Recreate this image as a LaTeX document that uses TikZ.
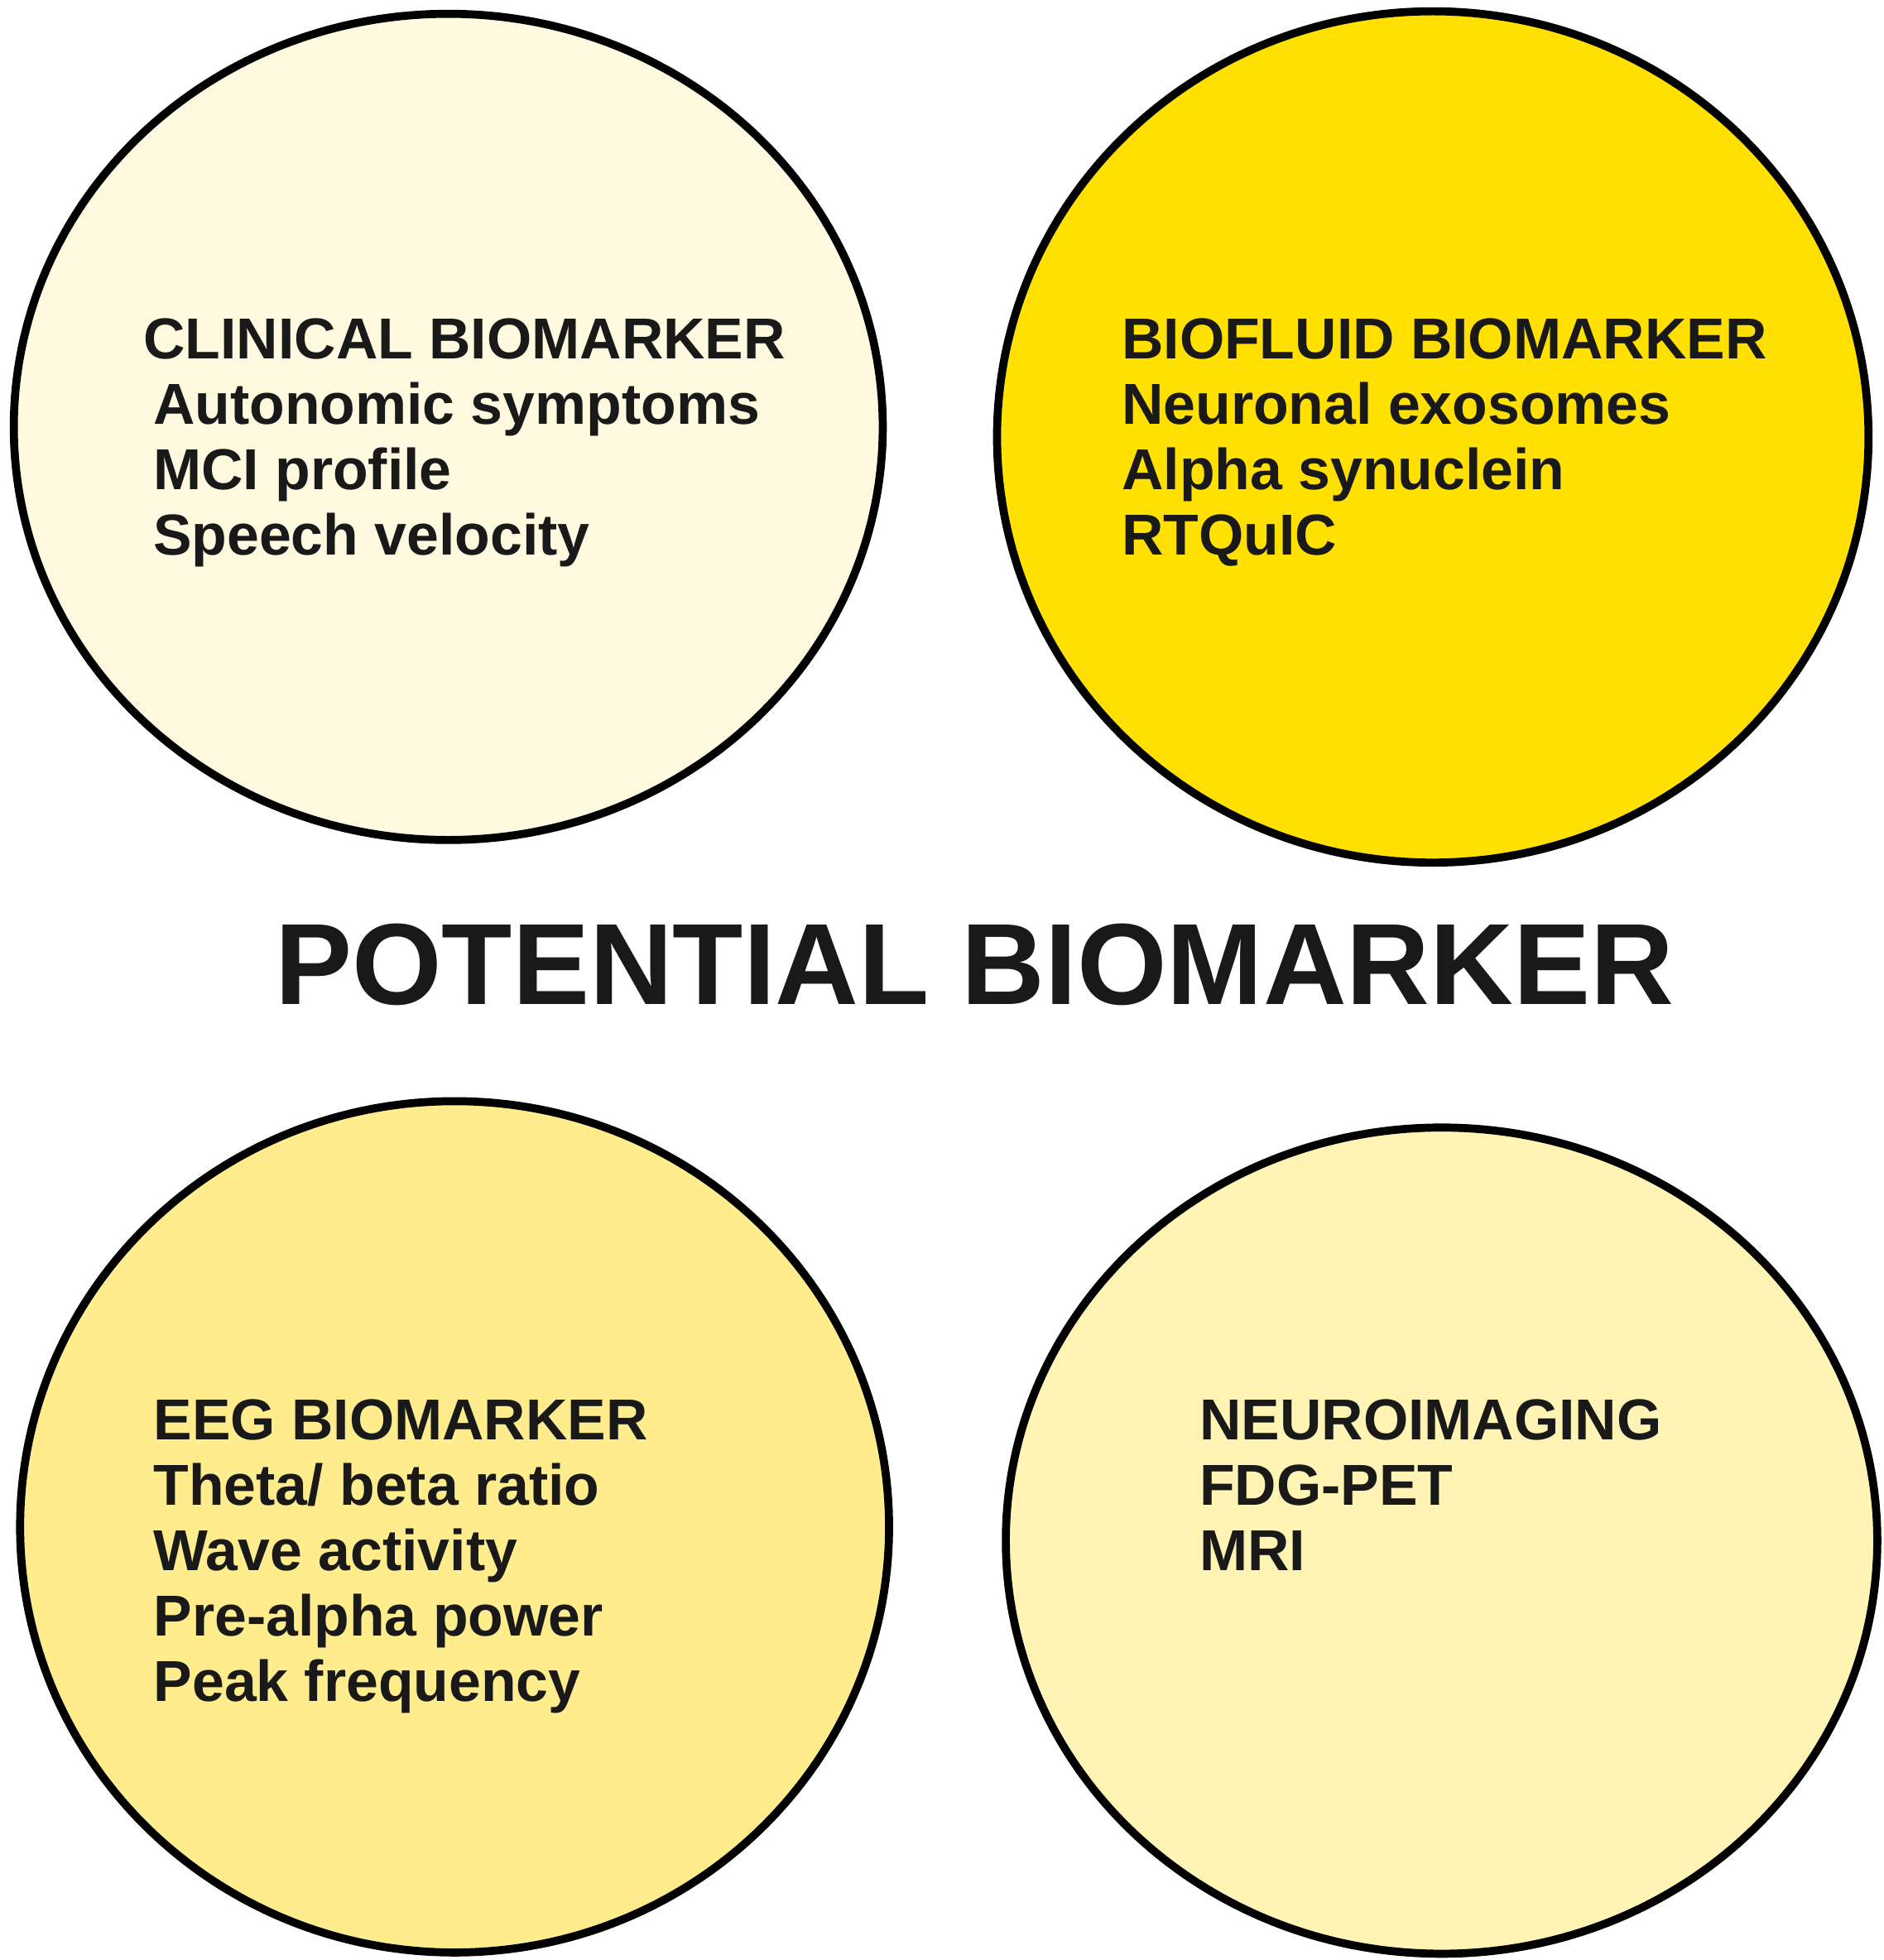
\documentclass[tikz,border=0pt]{standalone}
\usepackage{fontspec}
\setmainfont{Liberation Sans}
\begin{document}
\begin{tikzpicture}[x=0.5pt,y=-0.5pt,
  ring/.style={line width=3.2pt},
  lbl/.style={anchor=base west,inner sep=0pt,align=left,font=\bfseries\fontsize{23pt}{26pt}\selectfont,text=black!90}]
\useasboundingbox (0,0) rectangle (1500,1561);
\definecolor{cA}{HTML}{FFF9DF}
\definecolor{cB}{HTML}{FFE000}
\definecolor{cC}{HTML}{FFEC8C}
\definecolor{cD}{HTML}{FFF4B4}
\fill[cA] (357,340) ellipse [x radius=346,y radius=329];
\draw[ring] (357,340) ellipse [x radius=346,y radius=329];
\fill[cB] (1141,348) ellipse [x radius=347,y radius=339];
\draw[ring] (1141,348) ellipse [x radius=347,y radius=339];
\fill[cC] (362,1216) ellipse [x radius=346,y radius=339];
\draw[ring] (362,1216) ellipse [x radius=346,y radius=339];
\fill[cD] (1148,1227) ellipse [x radius=347,y radius=329];
\draw[ring] (1148,1227) ellipse [x radius=347,y radius=329];
\node[lbl] (t1) at (114,442) {CLINICAL BIOMARKER\\\,Autonomic symptoms\\\,MCI profile\\\,Speech velocity};
\node[lbl] (t2) at (893,442) {BIOFLUID BIOMARKER\\Neuronal exosomes\\Alpha synuclein\\RTQuIC};
\node[lbl] (t3) at (122,1355) {EEG BIOMARKER\\Theta/ beta ratio\\Wave activity\\Pre-alpha power\\Peak frequency};
\node[lbl] (t4) at (955,1251) {NEUROIMAGING\\FDG-PET\\MRI};
\node[inner sep=0pt,anchor=base,font=\bfseries\fontsize{46pt}{50pt}\selectfont,text=black!90] (title) at (776,800) {POTENTIAL BIOMARKER};
\end{tikzpicture}
\end{document}
